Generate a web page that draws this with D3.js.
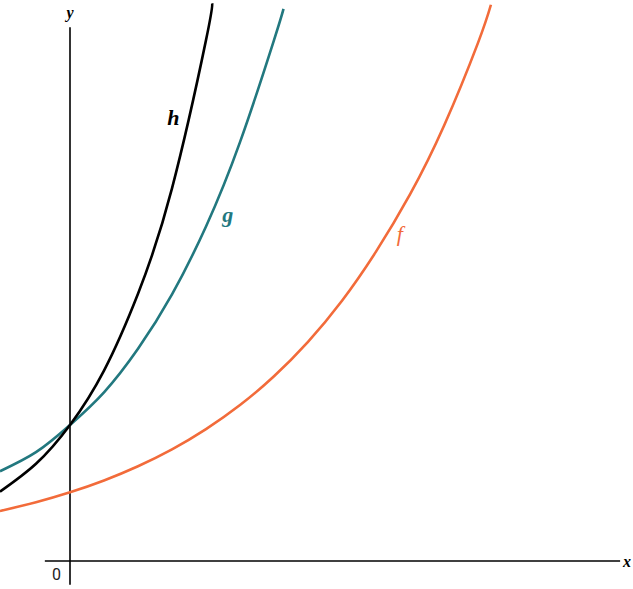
<!DOCTYPE html>
<html>
<head>
<meta charset="utf-8">
<script src="https://cdn.jsdelivr.net/npm/d3@7"></script>
<style>
  body { margin: 0; background: #fff; }
  svg { display: block; }
  .fn-label { font-family: "Liberation Serif", "DejaVu Serif", serif; font-style: italic; font-weight: bold; }
</style>
</head>
<body>
<div id="chart"></div>
<script>
'use strict';

// Values (x units, y units). Origin is where the axes cross.
var fX = [-1.03, -0.5, 0, 0.5, 1, 1.5, 2, 2.5, 3, 3.5, 4, 4.5, 5, 5.5, 6, 6.19];
var fY = [0.735, 0.864, 1.01, 1.184, 1.393, 1.641, 1.939, 2.293, 2.717, 3.223, 3.827, 4.549, 5.39, 6.40, 7.62, 8.18];

var gX = [-1.03, -0.5, 0, 0.5, 1, 1.5, 2, 2.5, 3, 3.14];
var gY = [1.32, 1.60, 2.0, 2.48, 3.12, 3.92, 4.92, 6.16, 7.66, 8.12];

var hX = [-1.03, -0.5, 0, 0.5, 1, 1.5, 2, 2.09];
var hY = [1.02, 1.43, 2.0, 2.80, 3.93, 5.48, 7.66, 8.2];

var seriesNames = ['f', 'g', 'h'];
var seriesColors = ['#f26b3a', '#22787f', '#000000'];

//Sizing things.
var width = 633;
var height = 589;

var svg = d3.select('#chart').append('svg')
  .attr('width', width)
  .attr('height', height);

// one unit = 68px both ways, axes cross at (70, 561)
var x = d3.scaleLinear().domain([-70 / 68, (width - 70) / 68]).range([0, width]);
var y = d3.scaleLinear().domain([-(height - 561) / 68, 561 / 68]).range([height, 0]);

// axes
svg.append('line')
  .attr('x1', x(-0.37)).attr('x2', x(8.09))
  .attr('y1', y(0)).attr('y2', y(0))
  .attr('stroke', '#000').attr('stroke-width', 1.6);

svg.append('line')
  .attr('x1', x(0)).attr('x2', x(0))
  .attr('y1', y(-0.35)).attr('y2', y(7.85))
  .attr('stroke', '#000').attr('stroke-width', 1.6);

svg.append('text')
  .attr('x', x(-0.2)).attr('y', y(-0.2))
  .attr('text-anchor', 'middle')
  .attr('dominant-baseline', 'central')
  .style('font-family', 'Roboto, "Noto Sans", sans-serif')
  .style('font-size', '16px')
  .style('fill', '#222')
  .text('0');

svg.append('text')
  .classed('fn-label', true)
  .attr('x', x(8.19)).attr('y', y(0))
  .attr('text-anchor', 'middle')
  .attr('dominant-baseline', 'central')
  .style('font-size', '16px')
  .text('x');

svg.append('text')
  .classed('fn-label', true)
  .attr('x', x(0)).attr('y', y(8.06))
  .attr('text-anchor', 'middle')
  .attr('dominant-baseline', 'central')
  .style('font-size', '16px')
  .text('y');

// curves
var line = d3.line()
  .x(function (d) { return x(d[0]); })
  .y(function (d) { return y(d[1]); })
  .curve(d3.curveNatural);

var curves = [d3.zip(fX, fY), d3.zip(gX, gY), d3.zip(hX, hY)];

svg.selectAll('path.curve')
  .data(curves)
  .enter().append('path')
  .attr('class', 'curve')
  .attr('d', line)
  .attr('fill', 'none')
  .attr('stroke', function (d, i) { return seriesColors[i]; })
  .attr('stroke-width', 2.6);

// curve labels
var labelAt = [[4.85, 4.82], [2.32, 5.09], [1.52, 6.52]];
var labelWeight = ['normal', 'bold', 'bold'];

svg.selectAll('text.curve-label')
  .data(seriesNames)
  .enter().append('text')
  .attr('class', 'curve-label fn-label')
  .attr('x', function (d, i) { return x(labelAt[i][0]); })
  .attr('y', function (d, i) { return y(labelAt[i][1]); })
  .attr('text-anchor', 'middle')
  .attr('dominant-baseline', 'central')
  .style('font-size', '22px')
  .style('font-weight', function (d, i) { return labelWeight[i]; })
  .style('fill', function (d, i) { return seriesColors[i]; })
  .text(function (d) { return d; });
</script>
</body>
</html>
